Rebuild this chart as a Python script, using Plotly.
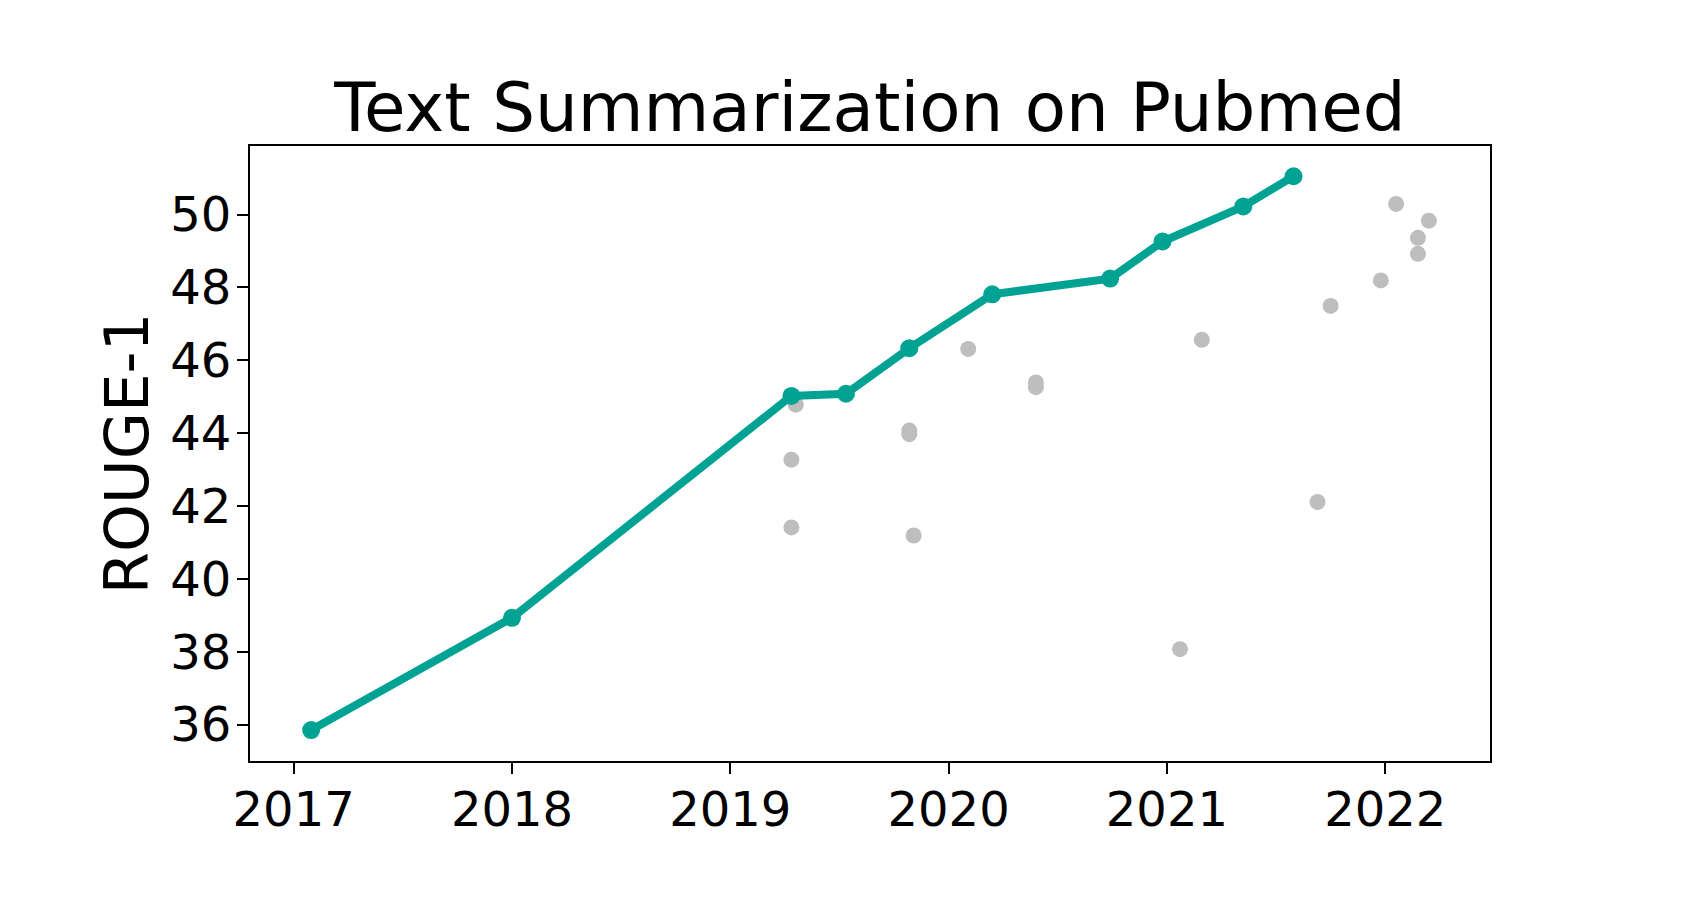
import plotly.graph_objects as go

# State-of-the-art progression (teal line)
sota_x = [2017.08, 2018.00, 2019.28, 2019.53, 2019.82, 2020.20, 2020.74, 2020.98, 2021.35, 2021.58]
sota_y = [35.85, 38.93, 45.02, 45.08, 46.33, 47.81, 48.24, 49.26, 50.22, 51.05]

# Other results (gray dots)
other_x = [2019.30, 2019.28, 2019.28, 2019.82, 2019.82, 2019.84, 2020.09, 2020.40, 2020.40,
           2021.06, 2021.16, 2021.69, 2021.75, 2021.98, 2022.05, 2022.15, 2022.15, 2022.20]
other_y = [44.78, 43.27, 41.41, 44.07, 43.97, 41.19, 46.31, 45.39, 45.26,
           38.07, 46.56, 42.11, 47.49, 48.19, 50.29, 49.36, 48.92, 49.83]

x_ticks = [2017, 2018, 2019, 2020, 2021, 2022]
y_ticks = [36, 38, 40, 42, 44, 46, 48, 50]

TEAL = "#00A393"
GRAY = "#BEBEBE"
FONT = "DejaVu Sans"

fig = go.Figure()
fig.add_trace(go.Scatter(
    x=other_x, y=other_y, mode="markers",
    marker=dict(color=GRAY, size=16, line=dict(width=0)),
    showlegend=False, hoverinfo="x+y",
))
fig.add_trace(go.Scatter(
    x=sota_x, y=sota_y, mode="lines+markers",
    line=dict(color=TEAL, width=8),
    marker=dict(color=TEAL, size=18, line=dict(width=0)),
    showlegend=False, hoverinfo="x+y",
))

fig.update_layout(
    width=1700, height=900,
    paper_bgcolor="white", plot_bgcolor="white",
    margin=dict(l=242, r=218, t=138, b=147, autoexpand=False),
    font=dict(family=FONT, color="black", size=48),
    title=dict(text="Text Summarization on Pubmed", x=0.507, xanchor="center",
               y=1 - 99 / 900, yanchor="middle", yref="container",
               font=dict(size=67.5, family=FONT, color="black")),
    xaxis=dict(
        range=[2016.80, 2022.48], tickmode="array", tickvals=x_ticks,
        ticktext=[str(v) for v in x_ticks],
        showgrid=False, zeroline=False,
        showline=True, linecolor="black", linewidth=2, mirror=True,
        ticks="outside", ticklen=11, tickwidth=2, tickcolor="black",
        ticklabelstandoff=-6,
        tickfont=dict(size=48, family=FONT, color="black"),
    ),
    yaxis=dict(
        range=[35.0, 51.88], tickmode="array", tickvals=y_ticks,
        ticktext=[str(v) for v in y_ticks],
        showgrid=False, zeroline=False,
        showline=True, linecolor="black", linewidth=2, mirror=True,
        ticks="outside", ticklen=11, tickwidth=2, tickcolor="black",
        ticklabelstandoff=-4,
        tickfont=dict(size=48, family=FONT, color="black"),
        title=dict(text="ROUGE-1", font=dict(size=61, family=FONT, color="black"), standoff=2),
    ),
)

fig.write_html("out.html")
